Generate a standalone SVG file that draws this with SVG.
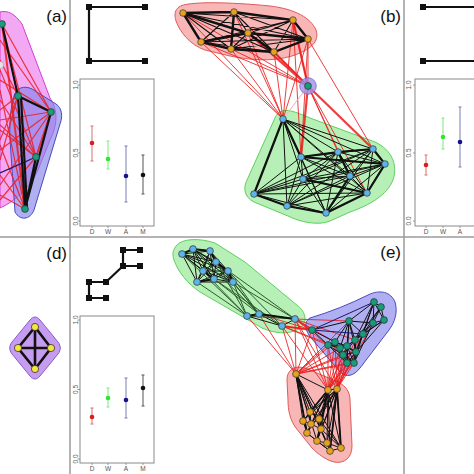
<svg xmlns="http://www.w3.org/2000/svg" width="474" height="474" viewBox="0 0 474 474">
<style>
.div{stroke:#9c9c9c;stroke-width:1.5;fill:none}
.box{fill:none;stroke:#8a8a8a;stroke-width:1}
.tk{font-family:"Liberation Sans",Arial,sans-serif;font-size:6.5px;fill:#555;text-anchor:middle}
.lab{font-family:"Liberation Sans",Arial,sans-serif;font-size:17px;fill:#111;text-anchor:end}
.sch{stroke:#111;stroke-width:2.2;fill:none}
.sq{fill:#111}
.ek{stroke:#111;fill:none;stroke-linecap:round}
.er{stroke:#ea1c1c;fill:none;stroke-opacity:.85}
.eg{stroke:#2d5a2d;fill:none}
.no circle{fill:#e6a21c;stroke:#333;stroke-width:.7}
.nb circle{fill:#5db4ea;stroke:#333;stroke-width:.7}
.nt circle{fill:#1a9b7a;stroke:#233;stroke-width:.7}
.ny circle{fill:#f4e63c;stroke:#333;stroke-width:.8}
.hp{fill:#f27a7a;fill-opacity:.55;stroke:#e05a5a;stroke-width:1}
.hg{fill:#8fe88f;fill-opacity:.65;stroke:#5fcf5f;stroke-width:1}
.hb{fill:#8484ea;fill-opacity:.65;stroke:#4a4ac0;stroke-width:1}
.hm{fill:#ea60ea;fill-opacity:.55;stroke:#d040d0;stroke-width:1}
.hv{fill:#c69cf0;stroke:#8a5ad0;stroke-width:1}
</style>

<!-- dividers -->
<g id="dividers">
<path class="div" d="M70 0V474M404 0V474M0 237H474"/>
</g>

<!-- labels -->
<g id="labels">
<text class="lab" x="67" y="22">(a)</text>
<text class="lab" x="401" y="22">(b)</text>
<text class="lab" x="67" y="259">(d)</text>
<text class="lab" x="401" y="258">(e)</text>
</g>

<!-- schematics -->
<g id="schematic-a">
<path class="sch" d="M89 7H145M89 7V61M89 61H145"/>
<rect class="sq" x="86" y="4" width="6" height="6"/><rect class="sq" x="142" y="4" width="6" height="6"/>
<rect class="sq" x="86" y="58" width="6" height="6"/><rect class="sq" x="142" y="58" width="6" height="6"/>
</g>
<g id="schematic-b">
<path class="sch" d="M423 7H474M423 61H474"/>
<rect class="sq" x="420" y="4" width="6" height="6"/><rect class="sq" x="420" y="58" width="6" height="6"/>
</g>
<g id="schematic-d">
<path class="sch" d="M123 250H140M123 250V266M123 266H140M106 282L123 266M89 282H106M89 282V298M89 298H106"/>
<rect class="sq" x="120" y="247" width="6" height="6"/><rect class="sq" x="137" y="247" width="6" height="6"/>
<rect class="sq" x="120" y="263" width="6" height="6"/><rect class="sq" x="137" y="263" width="6" height="6"/>
<rect class="sq" x="86" y="279" width="6" height="6"/><rect class="sq" x="103" y="279" width="6" height="6"/>
<rect class="sq" x="86" y="295" width="6" height="6"/><rect class="sq" x="103" y="295" width="6" height="6"/>
</g>

<!-- plot a -->
<g id="plot-a">
<rect class="box" x="80" y="79" width="74" height="147"/>
<path stroke="#777" stroke-width=".7" d="M78 85H80M78 153H80M78 221H80M92 226V228M108 226V228M126 226V228M143 226V228"/>
<text class="tk" transform="translate(77.5 85) rotate(-90)">1.0</text>
<text class="tk" transform="translate(77.5 153) rotate(-90)">0.5</text>
<text class="tk" transform="translate(77.5 221) rotate(-90)">0.0</text>
<text class="tk" x="92" y="234">D</text><text class="tk" x="108" y="234">W</text><text class="tk" x="126" y="234">A</text><text class="tk" x="143" y="234">M</text>
<path stroke="#e06b6b" stroke-width="1" d="M92 126V161M90.5 126H93.5M90.5 161H93.5"/>
<path stroke="#7de87d" stroke-width="1" d="M108 141V169M106.5 141H109.5M106.5 169H109.5"/>
<path stroke="#7a7ab8" stroke-width="1" d="M126 146V202M124.5 146H127.5M124.5 202H127.5"/>
<path stroke="#555" stroke-width="1" d="M143 155V194M141.5 155H144.5M141.5 194H144.5"/>
<circle cx="92" cy="143" r="2.3" fill="#d61f1f"/><circle cx="108" cy="159" r="2.3" fill="#2ee62e"/>
<circle cx="126" cy="176" r="2.3" fill="#12128c"/><circle cx="143" cy="175" r="2.3" fill="#111"/>
</g>

<!-- plot b -->
<g id="plot-b">
<rect class="box" x="415" y="79" width="70" height="147"/>
<path stroke="#777" stroke-width=".7" d="M413 85H415M413 153H415M413 221H415M426 226V228M443 226V228M460 226V228"/>
<text class="tk" transform="translate(410.5 85) rotate(-90)">1.0</text>
<text class="tk" transform="translate(410.5 153) rotate(-90)">0.5</text>
<text class="tk" transform="translate(410.5 221) rotate(-90)">0.0</text>
<text class="tk" x="426" y="234">D</text><text class="tk" x="443" y="234">W</text><text class="tk" x="460" y="234">A</text>
<path stroke="#e06b6b" stroke-width="1" d="M426 155V175M424.5 155H427.5M424.5 175H427.5"/>
<path stroke="#7de87d" stroke-width="1" d="M443 118V149M441.5 118H444.5M441.5 149H444.5"/>
<path stroke="#7a7ab8" stroke-width="1" d="M460 107V167M458.5 107H461.5M458.5 167H461.5"/>
<circle cx="426" cy="165" r="2.3" fill="#d61f1f"/><circle cx="443" cy="137" r="2.3" fill="#2ee62e"/>
<circle cx="460" cy="142" r="2.3" fill="#12128c"/>
</g>

<!-- plot d -->
<g id="plot-d">
<rect class="box" x="80" y="316" width="74" height="147"/>
<path stroke="#777" stroke-width=".7" d="M78 320H80M78 389.5H80M78 459H80M92 463V465M108 463V465M126 463V465M143 463V465"/>
<text class="tk" transform="translate(77.5 320) rotate(-90)">1.0</text>
<text class="tk" transform="translate(77.5 389.5) rotate(-90)">0.5</text>
<text class="tk" transform="translate(77.5 459) rotate(-90)">0.0</text>
<text class="tk" x="92" y="471">D</text><text class="tk" x="108" y="471">W</text><text class="tk" x="126" y="471">A</text><text class="tk" x="143" y="471">M</text>
<path stroke="#e06b6b" stroke-width="1" d="M92 408V424M90.5 408H93.5M90.5 424H93.5"/>
<path stroke="#7de87d" stroke-width="1" d="M108 388V407M106.5 388H109.5M106.5 407H109.5"/>
<path stroke="#7a7ab8" stroke-width="1" d="M126 378V418M124.5 378H127.5M124.5 418H127.5"/>
<path stroke="#555" stroke-width="1" d="M143 375V406M141.5 375H144.5M141.5 406H144.5"/>
<circle cx="92" cy="417" r="2.3" fill="#d61f1f"/><circle cx="108" cy="398" r="2.3" fill="#2ee62e"/>
<circle cx="126" cy="400" r="2.3" fill="#12128c"/><circle cx="143" cy="388" r="2.3" fill="#111"/>
</g>

<!-- hulls -->
<g id="hulls">
<path class="hm" d="M0 12C8 10 15 14 22 24L50 98C58 110 58 124 50 140L38 170C30 188 14 202 0 208Z"/>
<path class="hb" d="M14 96C16 88 24 85 32 89L56 104C62 108 63 116 60 124L34 210C30 220 20 221 15 212L10 140C9 122 11 106 14 96Z"/>
<path class="hp" d="M179 7C186 1 230 2 270 6C295 9 311 18 316 30C320 42 310 50 292 56C272 62 250 60 230 56L205 50C190 45 180 32 176 21C174 14 175 10 179 7Z"/>
<path class="hg" d="M280 112C286 108 296 112 310 118L375 142C392 150 398 165 393 180C387 195 370 205 350 212L330 221C318 226 300 222 288 216L254 202C244 197 243 188 247 180L274 120C276 115 278 113 280 112Z"/>
<path class="hg" d="M176 246C182 238 200 238 215 243L245 262L298 306C308 314 307 326 297 330C288 334 276 334 262 328L200 292C188 284 178 272 174 260C172 254 173 250 176 246Z"/>
<path class="hb" d="M310 318C330 312 350 304 368 295C380 289 391 292 395 302C398 312 395 322 389 330L360 368C354 376 346 378 340 372L312 339C304 330 304 321 310 318Z"/>
<path class="hp" d="M290 371C294 366 302 366 310 370L338 382C346 386 350 392 350 400L352 446C352 458 344 464 334 462C326 460 318 454 312 448L296 428C290 420 288 410 288 400L287 380C287 376 288 373 290 371Z"/>
<path class="hv" d="M30 320C33 316 37 316 40 320L58 342C61 346 61 350 58 354L40 376C37 380 33 380 30 376L12 354C9 350 9 346 12 342Z"/>
</g>

<!-- connectors -->
<g id="connectors">
<!-- panel a -->
<path class="er" stroke-width="1.2" d="M2 24L51 112M2 24L36 157M0 40L51 112M0 80L51 112M0 120L51 112M0 150L51 112M0 130L36 157M0 100L36 157M0 145L25 209M0 175L25 209M0 195L25 209M0 110L18 96M0 140L18 96M0 125L36 157M0 200L36 157M0 60L18 96M0 90L25 209M0 70L36 157M51 112L0 185M18 96L0 160"/>
<path class="er" stroke-width="2" d="M51 112L36 157M2 24L25 209"/>
<path stroke="#2a1060" stroke-width="1.3" d="M0 173L36 157"/>
<path class="ek" stroke-width="2.2" d="M2 24L18 96M18 96L51 112M18 96L25 209M51 112L25 209M36 157L25 209M21 97L27 207"/>
<!-- panel b -->
<path class="er" stroke-width="1" d="M183 13L283 119M234 12L283 119M293 20L283 119M248 33L283 119M201 42L283 119M231 49L283 119M274 52L283 119M308 39L283 119M183 13L308 86M234 12L308 86M293 20L308 86M201 42L308 86M231 49L308 86M308 39L308 86M308 86L338 152M308 86L367 193M308 86L350 176M293 20L301 157M308 39L301 157M308 39L373 149"/>
<path class="er" stroke-width="2.2" d="M248 33L308 86M274 52L308 86M308 86L373 149M308 86L301 157M293 20L308 86"/>
<path stroke="#f4b0b0" stroke-width="1" d="M308 86L283 119"/>
<path class="ek" stroke-width="1.1" d="M183 13L234 12M183 13L293 20M183 13L248 33M183 13L201 42M183 13L231 49M183 13L274 52M183 13L308 39M234 12L293 20M234 12L248 33M234 12L201 42M234 12L231 49M234 12L274 52M234 12L308 39M293 20L248 33M293 20L201 42M293 20L231 49M293 20L274 52M293 20L308 39M248 33L201 42M248 33L231 49M248 33L274 52M248 33L308 39M201 42L231 49M201 42L274 52M201 42L308 39M231 49L274 52M231 49L308 39M274 52L308 39"/>
<path class="ek" stroke-width="2.4" d="M183 13L234 12L293 20L308 39L274 52L231 49L201 42L183 13M183 13L248 33L274 52M201 42L248 33L308 39M234 12L231 49"/>
<path class="ek" stroke-width="1" d="M283 119L373 149M283 119L338 152M283 119L301 157M283 119L385 164M283 119L350 176M283 119L303 179M283 119L254 194M283 119L367 193M283 119L287 206M283 119L326 213M373 149L338 152M373 149L301 157M373 149L385 164M373 149L350 176M373 149L303 179M373 149L254 194M373 149L367 193M373 149L287 206M373 149L326 213M338 152L301 157M338 152L385 164M338 152L350 176M338 152L303 179M338 152L254 194M338 152L367 193M338 152L287 206M338 152L326 213M301 157L385 164M301 157L350 176M301 157L303 179M301 157L254 194M301 157L367 193M301 157L287 206M301 157L326 213M385 164L350 176M385 164L303 179M385 164L254 194M385 164L367 193M385 164L287 206M385 164L326 213M350 176L303 179M350 176L254 194M350 176L367 193M350 176L287 206M350 176L326 213M303 179L254 194M303 179L367 193M303 179L287 206M303 179L326 213M254 194L367 193M254 194L287 206M254 194L326 213M367 193L287 206M367 193L326 213M287 206L326 213"/>
<path class="ek" stroke-width="2.2" d="M254 194L287 206L326 213L367 193L385 164L373 149M283 119L254 194M283 119L301 157L338 152L373 149M301 157L385 164M303 179L367 193M338 152L350 176L326 213"/>
<!-- panel d -->
<path class="ek" stroke-width="2.6" d="M35 327L18 348L35 369L51 348L35 327L35 369M18 348H51"/>
<!-- panel e -->
<path class="er" stroke-width="1" d="M247 316L296 374M259 314L296 374M282 326L296 374M295 319L296 374M295 319L335 342M295 319L328 345M282 326L312 330M282 326L328 345M295 319L349 321M295 319L355 340M282 326L340 348M295 319L328 390M295 319L337 389M282 326L328 390M296 374L312 330M296 374L328 345M296 374L335 342M296 374L340 348M296 374L343 355M296 374L347 363M296 374L354 363M296 374L349 321M296 374L356 352M328 390L328 345M328 390L335 342M328 390L340 348M328 390L343 355M328 390L347 363M328 390L354 363M328 390L356 352M328 390L347 346M328 390L312 330M337 389L328 345M337 389L340 348M337 389L343 355M337 389L347 363M337 389L354 363M337 389L356 352M337 389L363 334M337 389L355 340M337 389L347 346M337 389L335 342M328 390L363 334M337 389L373 323M259 314L312 330"/>
<path class="er" stroke-width="2" d="M295 319L312 330M282 326L312 330"/>
<path class="ek" stroke-width="1" d="M182 254L193 249M182 254L210 251M182 254L216 262M182 254L203 271M182 254L228 271M182 254L197 282M182 254L214 279M182 254L233 282M193 249L210 251M193 249L216 262M193 249L203 271M193 249L228 271M193 249L197 282M193 249L214 279M193 249L233 282M210 251L216 262M210 251L203 271M210 251L228 271M210 251L197 282M210 251L214 279M210 251L233 282M216 262L203 271M216 262L228 271M216 262L197 282M216 262L214 279M216 262L233 282M203 271L228 271M203 271L197 282M203 271L214 279M203 271L233 282M228 271L197 282M228 271L214 279M228 271L233 282M197 282L214 279M197 282L233 282M214 279L233 282M247 316L259 314M247 316L282 326M259 314L282 326M259 314L295 319M282 326L295 319"/>
<path class="eg" stroke-width="1" d="M182 254L247 316M193 249L259 314M210 251L247 316M216 262L259 314M203 271L247 316M228 271L259 314M197 282L247 316M214 279L259 314M233 282L247 316M233 282L259 314M228 271L282 326M216 262L295 319M233 282L295 319M214 279L282 326M247 316L295 319"/>
<path class="ek" stroke-width="2" d="M182 254L193 249L210 251L216 262L228 271L233 282M203 271L214 279M197 282L214 279M247 316L259 314L295 319"/>
<path class="ek" stroke-width="1" d="M374 302L381 307M374 302L384 320M374 302L373 323M381 307L384 320M381 307L373 323M384 320L373 323M374 302L349 321M374 302L363 334M381 307L363 334M384 320L363 334M373 323L363 334M373 323L355 340M374 302L355 340M384 320L355 340M349 321L373 323M349 321L363 334M349 321L355 340M349 321L335 342M349 321L347 346M349 321L356 352M349 321L347 363M349 321L340 348M312 330L349 321M312 330L335 342M312 330L328 345M363 334L355 340M363 334L347 346M363 334L356 352M363 334L354 363M355 340L347 346M355 340L356 352M355 340L343 355M355 340L354 363M335 342L328 345M335 342L347 346M335 342L340 348M335 342L343 355M328 345L340 348M328 345L343 355M328 345L347 363M347 346L340 348M347 346L356 352M347 346L343 355M347 346L347 363M347 346L354 363M340 348L343 355M340 348L347 363M356 352L343 355M356 352L347 363M356 352L354 363M343 355L347 363M343 355L354 363M347 363L354 363M335 342L356 352M328 345L347 346M340 348L354 363M381 307L355 340M384 320L356 352M374 302L356 352M373 323L354 363"/>
<path stroke="#1a1a70" stroke-width="1" d="M312 330L374 302M312 330L363 334"/>
<path class="ek" stroke-width="1" d="M296 374L310 412M296 374L303 421M296 374L319 419M296 374L311 424M296 374L321 429M296 374L307 433M296 374L317 441M296 374L327 443M296 374L330 451M296 374L328 390M296 374L341 448M328 390L337 389M328 390L310 412M328 390L303 421M328 390L319 419M328 390L311 424M328 390L321 429M328 390L307 433M328 390L317 441M328 390L327 443M328 390L330 451M328 390L341 448M337 389L310 412M337 389L303 421M337 389L319 419M337 389L311 424M337 389L321 429M337 389L307 433M337 389L317 441M337 389L327 443M337 389L330 451M337 389L341 448M310 412L303 421M310 412L319 419M310 412L311 424M303 421L311 424M303 421L307 433M319 419L311 424M319 419L321 429M311 424L321 429M311 424L307 433M321 429L317 441M321 429L327 443M307 433L317 441M317 441L327 443M327 443L330 451M330 451L341 448M317 441L330 451M327 443L341 448M321 429L341 448M319 419L341 448M307 433L330 451"/>
<path class="ek" stroke-width="1.8" d="M296 374L307 433M328 390L310 412M337 389L341 448M337 389L330 451M328 390L317 441"/>
</g>

<!-- nodes -->
<g id="nodes-a" class="nt">
<g id="a-pale"><circle cx="0" cy="65" r="3.6" style="fill:#e4e4e4;stroke:#aaa"/></g>
<g id="a-o1" class="no"><circle cx="2" cy="24" r="3.4"/></g>
<g id="a-t1"><circle cx="18" cy="96" r="3.4"/></g>
<g id="a-t2"><circle cx="51" cy="112" r="3.4"/></g>
<g id="a-o2" class="no"><circle cx="36" cy="157" r="3.4"/></g>
<g id="a-t3"><circle cx="25" cy="209" r="3.4"/></g>
</g>
<g id="nodes-b">
<g id="b-o1" class="no"><circle cx="183" cy="13" r="3.3"/></g>
<g id="b-o2" class="no"><circle cx="234" cy="12" r="3.3"/></g>
<g id="b-o3" class="no"><circle cx="293" cy="20" r="3.3"/></g>
<g id="b-o4" class="no"><circle cx="248" cy="33" r="3.3"/></g>
<g id="b-o5" class="no"><circle cx="201" cy="42" r="3.3"/></g>
<g id="b-o6" class="no"><circle cx="231" cy="49" r="3.3"/></g>
<g id="b-o7" class="no"><circle cx="274" cy="52" r="3.3"/></g>
<g id="b-o8" class="no"><circle cx="308" cy="39" r="3.3"/></g>
<g id="b-p" class="nt"><circle cx="308" cy="86" r="8.3" style="fill:#a090ea;fill-opacity:.8;stroke:#6f5fd0"/><circle cx="308" cy="86" r="3.4"/></g>
<g id="b-b1" class="nb"><circle cx="283" cy="119" r="3.3"/></g>
<g id="b-b2" class="nb"><circle cx="373" cy="149" r="3.3"/></g>
<g id="b-b3" class="nb"><circle cx="338" cy="152" r="3.3"/></g>
<g id="b-b4" class="nb"><circle cx="301" cy="157" r="3.3"/></g>
<g id="b-b5" class="nb"><circle cx="385" cy="164" r="3.3"/></g>
<g id="b-b6" class="nb"><circle cx="350" cy="176" r="3.3"/></g>
<g id="b-b7" class="nb"><circle cx="303" cy="179" r="3.3"/></g>
<g id="b-b8" class="nb"><circle cx="254" cy="194" r="3.3"/></g>
<g id="b-b9" class="nb"><circle cx="367" cy="193" r="3.3"/></g>
<g id="b-b10" class="nb"><circle cx="287" cy="206" r="3.3"/></g>
<g id="b-b11" class="nb"><circle cx="326" cy="213" r="3.3"/></g>
</g>
<g id="nodes-d" class="ny">
<g id="d-1"><circle cx="35" cy="327" r="3.6"/></g>
<g id="d-2"><circle cx="18" cy="348" r="3.6"/></g>
<g id="d-3"><circle cx="51" cy="348" r="3.6"/></g>
<g id="d-4"><circle cx="35" cy="369" r="3.6"/></g>
</g>
<g id="nodes-e">
<g id="e-b1" class="nb"><circle cx="182" cy="254" r="3.4"/></g>
<g id="e-b2" class="nb"><circle cx="193" cy="249" r="3.4"/></g>
<g id="e-b3" class="nb"><circle cx="210" cy="251" r="3.4"/></g>
<g id="e-b4" class="nb"><circle cx="216" cy="262" r="3.4"/></g>
<g id="e-b5" class="nb"><circle cx="203" cy="271" r="3.4"/></g>
<g id="e-b6" class="nb"><circle cx="228" cy="271" r="3.4"/></g>
<g id="e-b7" class="nb"><circle cx="197" cy="282" r="3.4"/></g>
<g id="e-b8" class="nb"><circle cx="214" cy="279" r="3.4"/></g>
<g id="e-b9" class="nb"><circle cx="233" cy="282" r="3.4"/></g>
<g id="e-b10" class="nb"><circle cx="247" cy="316" r="3.4"/></g>
<g id="e-b11" class="nb"><circle cx="259" cy="314" r="3.4"/></g>
<g id="e-b12" class="nb"><circle cx="282" cy="326" r="3.4"/></g>
<g id="e-b13" class="nb"><circle cx="295" cy="319" r="3.4"/></g>
<g id="e-t1" class="nt"><circle cx="312" cy="330" r="3.4"/></g>
<g id="e-t2" class="nt"><circle cx="349" cy="321" r="3.4"/></g>
<g id="e-t3" class="nt"><circle cx="374" cy="302" r="3.4"/></g>
<g id="e-t4" class="nt"><circle cx="381" cy="307" r="3.4"/></g>
<g id="e-t5" class="nt"><circle cx="384" cy="320" r="3.4"/></g>
<g id="e-t6" class="nt"><circle cx="373" cy="323" r="3.4"/></g>
<g id="e-t7" class="nt"><circle cx="363" cy="334" r="3.4"/></g>
<g id="e-t8" class="nt"><circle cx="355" cy="340" r="3.4"/></g>
<g id="e-t9" class="nt"><circle cx="335" cy="342" r="3.4"/></g>
<g id="e-t10" class="nt"><circle cx="328" cy="345" r="3.4"/></g>
<g id="e-t11" class="nt"><circle cx="347" cy="346" r="3.4"/></g>
<g id="e-t12" class="nt"><circle cx="340" cy="348" r="3.4"/></g>
<g id="e-t13" class="nt"><circle cx="356" cy="352" r="3.4"/></g>
<g id="e-t14" class="nt"><circle cx="343" cy="355" r="3.4"/></g>
<g id="e-t15" class="nt"><circle cx="347" cy="363" r="3.4"/></g>
<g id="e-t16" class="nt"><circle cx="354" cy="363" r="3.4"/></g>
<g id="e-o1" class="no"><circle cx="296" cy="374" r="3.4"/></g>
<g id="e-o2" class="no"><circle cx="328" cy="390" r="3.4"/></g>
<g id="e-o3" class="no"><circle cx="337" cy="389" r="3.4"/></g>
<g id="e-o4" class="no"><circle cx="310" cy="412" r="3.4"/></g>
<g id="e-o5" class="no"><circle cx="303" cy="421" r="3.4"/></g>
<g id="e-o6" class="no"><circle cx="319" cy="419" r="3.4"/></g>
<g id="e-o7" class="no"><circle cx="311" cy="424" r="3.4"/></g>
<g id="e-o8" class="no"><circle cx="321" cy="429" r="3.4"/></g>
<g id="e-o9" class="no"><circle cx="307" cy="433" r="3.4"/></g>
<g id="e-o10" class="no"><circle cx="317" cy="441" r="3.4"/></g>
<g id="e-o11" class="no"><circle cx="327" cy="443" r="3.4"/></g>
<g id="e-o12" class="no"><circle cx="330" cy="451" r="3.4"/></g>
<g id="e-o13" class="no"><circle cx="341" cy="448" r="3.4"/></g>
</g>
</svg>
